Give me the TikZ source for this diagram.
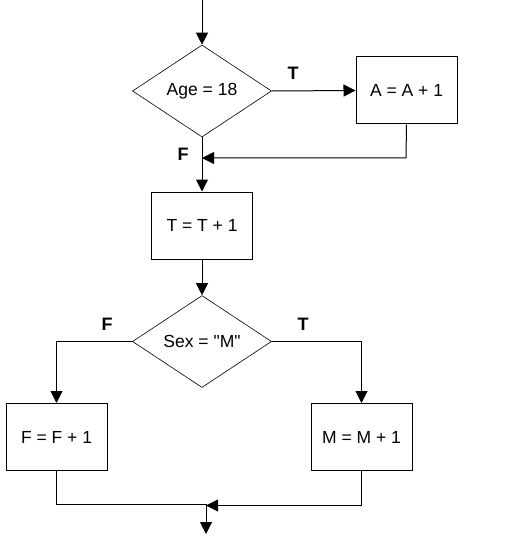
\documentclass[tikz,border=0pt]{standalone}
\usepackage{fontspec}
\setmainfont{Liberation Sans}[Ligatures=TeXOff]
\usetikzlibrary{shapes.geometric,arrows.meta}
\begin{document}
\begin{tikzpicture}[x=1pt,y=-1pt,
  font=\fontsize{17.5}{20}\selectfont,
  line width=1pt,
  procbox/.style={draw,rectangle,minimum width=101pt,minimum height=67pt,inner sep=0pt},
  decision/.style={draw,diamond,minimum width=139pt,minimum height=92pt,inner sep=0pt,line width=0.6pt},
  flow/.style={-{Triangle[length=12pt,width=12pt]}},
  lbl/.style={font=\fontsize{18}{20}\selectfont\bfseries}]
\useasboundingbox (0,0) rectangle (506,540);
\coordinate (start) at (202,0);
\node[decision] (d1) at (202,91) {Age = 18};
\node[procbox] (boxA) at (406.5,90.5) {A = A + 1};
\coordinate (j1) at (202,158);
\coordinate (a1) at (406,158);
\node[procbox] (boxT) at (202,225.5) {T = T + 1};
\node[decision] (d2) at (202,341.5) {Sex = "M"};
\coordinate (fl) at (56.5,341.5);
\coordinate (tr) at (361.5,341.5);
\node[procbox] (boxF) at (56.5,437) {F = F + 1};
\node[procbox] (boxM) at (361.5,437) {M = M + 1};
\coordinate (fb) at (56.5,504);
\coordinate (mb) at (361.5,505.5);
\coordinate (j2) at (206,504);
\coordinate (j2m) at (206,505.5);
\coordinate (stop) at (206,534);
\node[lbl] (lt1) at (293,73) {T};
\node[lbl] (lf1) at (183,154) {F};
\node[lbl] (lf2) at (107,324) {F};
\node[lbl] (lt2) at (303,324) {T};
\draw[flow] (start) -- (d1.north);
\draw[flow] (d1.east) -- (boxA.west);
\draw[flow] (boxA.south) -- (a1) -- (j1);
\draw[flow] (d1.south) -- (boxT.north);
\draw[flow] (boxT.south) -- (d2.north);
\draw[flow] (d2.west) -- (fl) -- (boxF.north);
\draw[flow] (d2.east) -- (tr) -- (boxM.north);
\draw (boxF.south) -- (fb) -- (j2);
\draw[flow] (boxM.south) -- (mb) -- (j2m);
\draw[flow] (j2) -- (stop);
\end{tikzpicture}
\end{document}
